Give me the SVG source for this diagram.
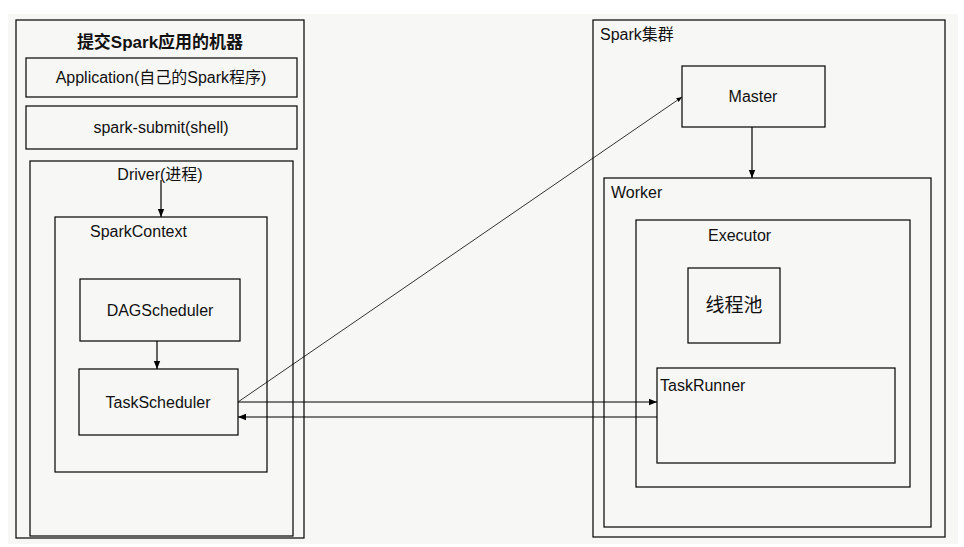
<svg xmlns="http://www.w3.org/2000/svg" width="964" height="547" viewBox="0 0 964 547">
<style>
rect.b{fill:none;stroke:#000;stroke-width:1.2}
text{font-family:"Liberation Sans","Noto Sans CJK SC",sans-serif;font-size:16px;fill:#111}
.c{text-anchor:middle}
line{stroke:#000;stroke-width:1.2}
</style>
<defs><marker id="a" viewBox="0 0 10 10" refX="10" refY="5" markerWidth="7" markerHeight="7" orient="auto"><path d="M0,1L10,5L0,9z" fill="#000"/></marker></defs>
<rect width="964" height="547" fill="#fff"/>
<rect x="8" y="14" width="950" height="530" fill="#f7f7f5"/>
<g id="machine"><rect class="b" x="16" y="20" width="288" height="518"/><text class="c" x="160" y="48" style="font-weight:bold;font-size:17px">提交Spark应用的机器</text></g>
<g id="app"><rect class="b" x="26" y="58" width="271" height="39"/><text class="c" x="161" y="83">Application(自己的Spark程序)</text></g>
<g id="submit"><rect class="b" x="26" y="106" width="271" height="43"/><text class="c" x="161" y="133">spark-submit(shell)</text></g>
<g id="driver"><rect class="b" x="30" y="161" width="263" height="375"/><text class="c" x="160" y="180">Driver(进程)</text></g>
<g id="sc"><rect class="b" x="55" y="217" width="212" height="255"/><text x="90" y="237">SparkContext</text></g>
<g id="dag"><rect class="b" x="80" y="279" width="160" height="62"/><text class="c" x="160" y="316">DAGScheduler</text></g>
<g id="ts"><rect class="b" x="79" y="369" width="159" height="66"/><text class="c" x="158" y="408">TaskScheduler</text></g>
<g id="cluster"><rect class="b" x="593" y="20" width="352" height="517"/><text x="600" y="40">Spark集群</text></g>
<g id="master"><rect class="b" x="682" y="66" width="143" height="61"/><text class="c" x="753" y="102">Master</text></g>
<g id="worker"><rect class="b" x="604" y="178" width="327" height="349"/><text x="611" y="198">Worker</text></g>
<g id="executor"><rect class="b" x="636" y="220" width="274" height="267"/><text x="708" y="241">Executor</text></g>
<g id="pool"><rect class="b" x="688" y="268" width="92" height="75"/><text class="c" x="734" y="312" style="font-size:19px">线程池</text></g>
<g id="runner"><rect class="b" x="657" y="368" width="238" height="95"/><text x="660" y="391">TaskRunner</text></g>
<g id="connectors">
<line x1="161" y1="180" x2="161" y2="217" marker-end="url(#a)"/>
<line x1="157" y1="341" x2="157" y2="369" marker-end="url(#a)"/>
<line x1="752" y1="127" x2="752" y2="178" marker-end="url(#a)"/>
<line x1="238" y1="402" x2="682" y2="97" marker-end="url(#a)" style="stroke-width:0.8"/>
<line x1="238" y1="402" x2="657" y2="402" marker-end="url(#a)"/>
<line x1="657" y1="417" x2="238" y2="417" marker-end="url(#a)"/>
</g>
</svg>
